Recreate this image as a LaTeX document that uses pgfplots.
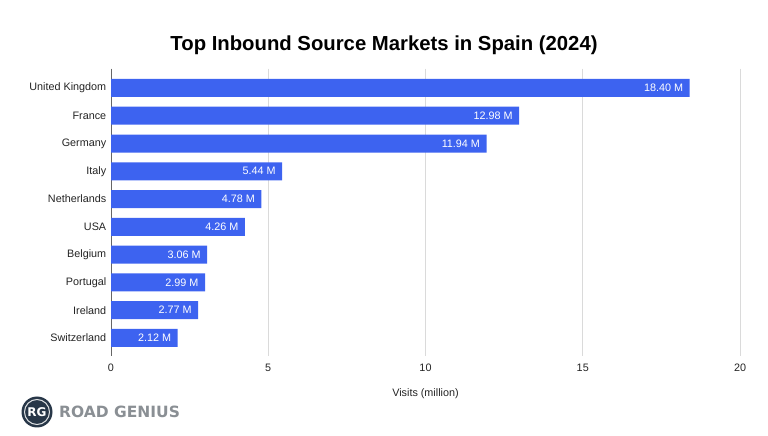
\documentclass[border=0pt]{standalone}
\usepackage{pgfplots}
\pgfplotsset{compat=1.18}
\usepackage{fontspec}
\setmainfont{Liberation Sans}
\newfontfamily\logofont{DejaVu Sans}
\definecolor{barblue}{RGB}{61,99,240}
\definecolor{txt}{RGB}{35,35,35}
\definecolor{gridc}{RGB}{218,218,218}
\definecolor{navy}{RGB}{40,55,72}
\definecolor{logogray}{RGB}{138,143,148}
\begin{document}
\begin{tikzpicture}
\path[use as bounding box] (0,0) rectangle (768pt,436pt);
\begin{axis}[
  at={(111pt,80pt)}, anchor=south west,
  scale only axis, width=629pt, height=287.5pt,
  xbar, bar width=18pt,
  xmin=0, xmax=20, ymin=-0.7, ymax=9.65,
  y dir=reverse,
  ytick={0,...,9},
  yticklabels={United Kingdom,France,Germany,Italy,Netherlands,USA,Belgium,Portugal,Ireland,Switzerland},
  xtick={0,5,10,15,20},
  xmajorgrids, grid style={gridc, line width=0.7pt},
  axis x line*=bottom,
  x axis line style={draw=none},
  axis y line*=left,
  y axis line style={draw=gray!80!black, line width=0.8pt, -},
  tick style={draw=none},
  ticklabel style={font=\fontsize{10.8}{13}\selectfont, text=txt},
  /pgf/number format/assume math mode=true,
  xticklabel style={anchor=center, yshift=-12pt},
  yticklabel style={xshift=3pt},
  xlabel={Visits (million)},
  xlabel style={font=\fontsize{10.8}{13}\selectfont, text=txt, anchor=center, at={(axis description cs:0.5,0)}, yshift=-38pt},
  point meta=explicit symbolic,
  nodes near coords,
  nodes near coords style={anchor=east, xshift=-3pt, text=white, font=\fontsize{10.8}{13}\selectfont},
  clip=false,
]
\addplot[fill=barblue, draw=none] table[x=v, y=i, meta=l] {
i v l
0 18.40 {18.40 M}
1 12.98 {12.98 M}
2 11.94 {11.94 M}
3 5.44 {5.44 M}
4 4.78 {4.78 M}
5 4.26 {4.26 M}
6 3.06 {3.06 M}
7 2.99 {2.99 M}
8 2.77 {2.77 M}
9 2.12 {2.12 M}
};
\end{axis}
\node[font=\bfseries\fontsize{20.3}{24}\selectfont, inner sep=0pt] at (384pt,391pt) {Top Inbound Source Markets in Spain (2024)};
\fill[navy] (37pt,24pt) circle (15.5pt);
\draw[white!85!navy, line width=1pt] (37pt,24pt) circle (12.5pt);
\node[text=white, font=\logofont\bfseries\fontsize{12}{14}\selectfont, inner sep=0pt] at (37pt,24pt) {RG};
\node[anchor=west, text=logogray, font=\logofont\bfseries\fontsize{15.5}{18}\selectfont, inner sep=0pt] at (59pt,24pt) {ROAD GENIUS};
\end{tikzpicture}
\end{document}
